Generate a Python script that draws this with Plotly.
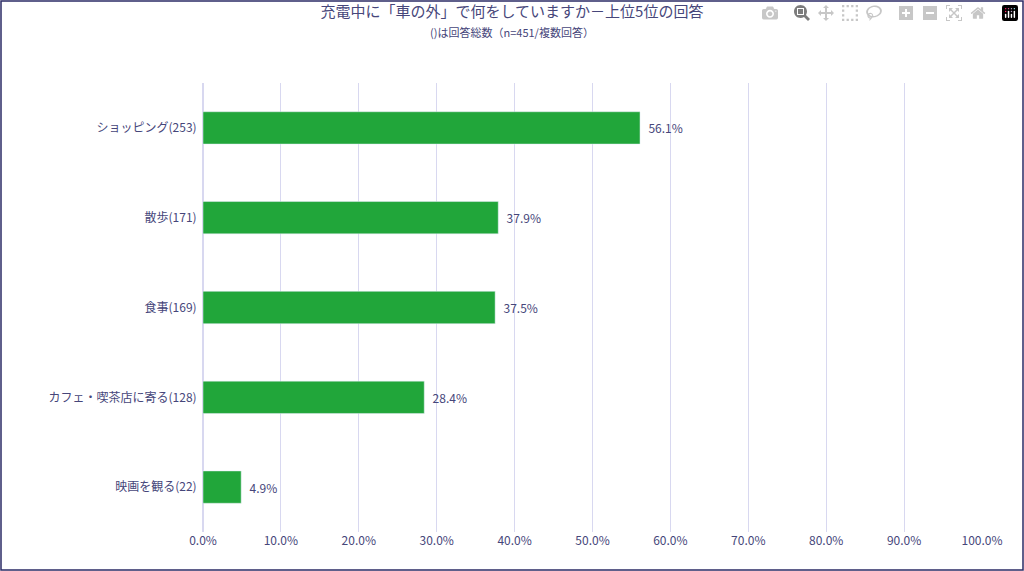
import plotly.graph_objects as go

categories = ["ショッピング(253)", "散歩(171)", "食事(169)", "カフェ・喫茶店に寄る(128)", "映画を観る(22)"]
values = [56.1, 37.9, 37.5, 28.4, 4.9]
tick_vals = [0, 10, 20, 30, 40, 50, 60, 70, 80, 90, 100]

txt = "#46467a"
fig = go.Figure(go.Bar(
    y=categories, x=values, orientation="h",
    marker_color="#21a63a",
    text=[f"  {v:.1f}%" for v in values], textposition="outside",
    textfont=dict(size=12, color=txt), cliponaxis=False,
))

W, H = 1024, 571
l, r, t, b = 203, 42, 83, 39
pw, ph = W - l - r, H - t - b
fig.add_shape(type="rect", xref="paper", yref="paper",
              x0=-(l - 1) / pw, x1=1 + (r - 1) / pw,
              y0=-(b - 1) / ph, y1=1 + (t - 1) / ph,
              line=dict(color="#2b2b66", width=1.5))

fig.update_layout(
    width=W, height=H, margin=dict(l=l, r=r, t=t, b=b),
    paper_bgcolor="white", plot_bgcolor="white",
    font=dict(family="Noto Sans CJK JP", color=txt, size=12),
    bargap=0.64, showlegend=False,
    title=dict(text="充電中に「車の外」で何をしていますか－上位5位の回答<br><span style='font-size:11px'>()は回答総数（n=451/複数回答）</span>",
               x=0.5, xref="container", y=0.97, yanchor="top", font=dict(size=15, color=txt)),
    xaxis=dict(range=[0, 100], tickvals=tick_vals, ticktext=[f"{v:.1f}%" for v in tick_vals],
               showgrid=True, gridcolor="#d8d8f0", zeroline=True, zerolinecolor="#d8d8f0",
               ticks="", tickfont=dict(size=12, color=txt)),
    yaxis=dict(autorange="reversed", showgrid=False, ticks="", ticksuffix="  ",
               tickfont=dict(size=12, color=txt)),
)
fig.write_html("out.html", post_script="document.body.style.margin='0';document.body.style.overflow='hidden';")
